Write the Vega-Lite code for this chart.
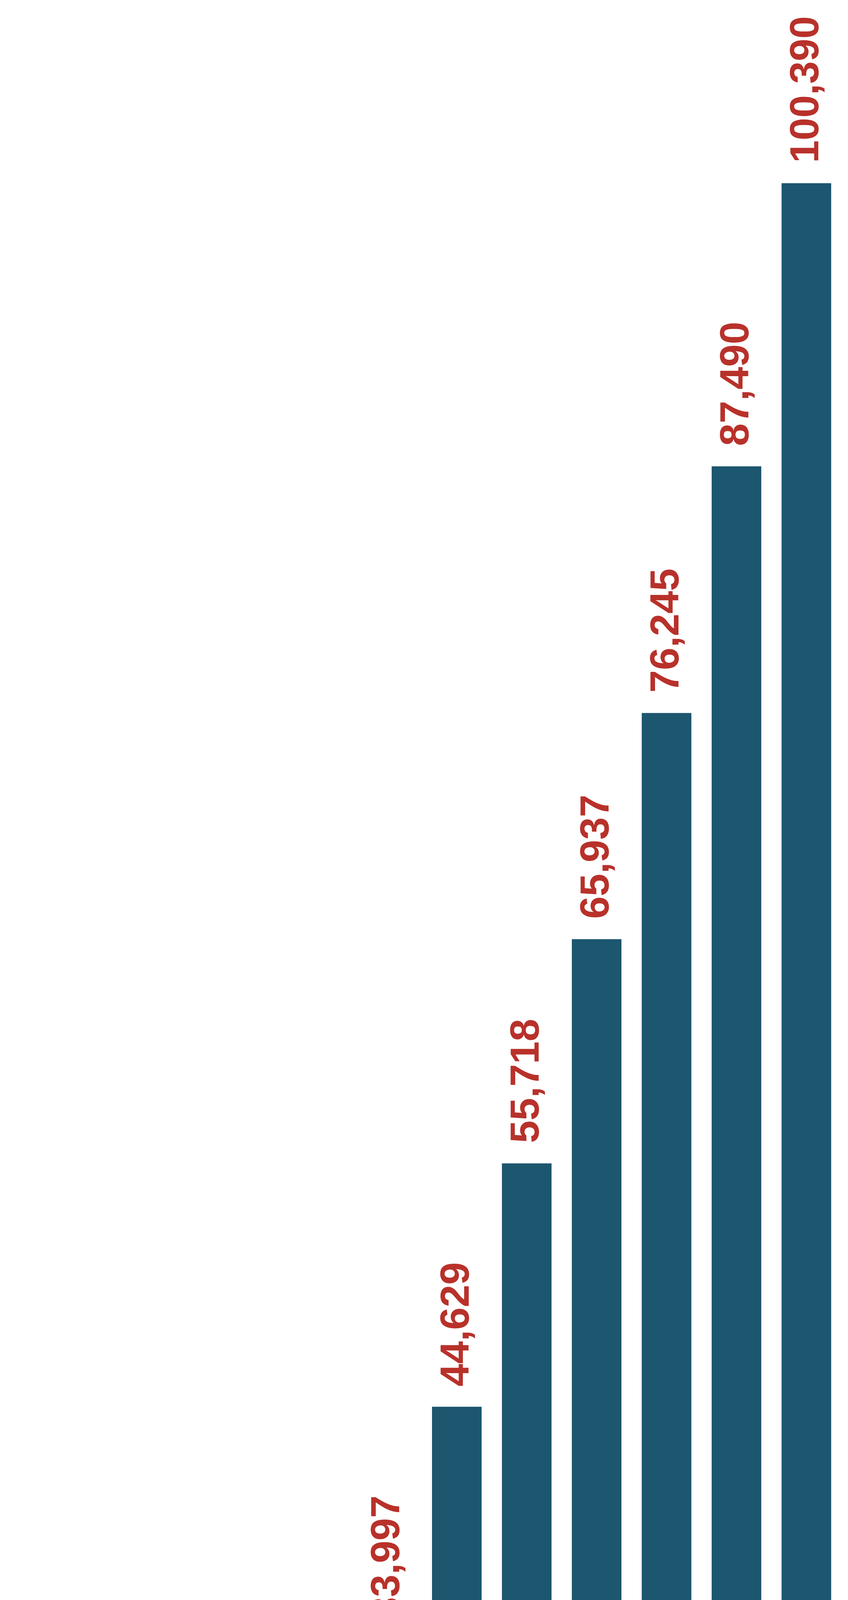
{
  "$schema": "https://vega.github.io/schema/vega-lite/v6.json",
  "description": "Yearly totals 2008-2019",
  "width": 2160,
  "height": 6108,
  "padding": {"left": 0, "top": 0, "right": 11, "bottom": 287},
  "autosize": {"type": "none"},
  "background": "white",
  "config": {"view": {"stroke": null}},
  "data": {
    "values": [
      {"year": "2008", "total": 4000},
      {"year": "2009", "total": 6618},
      {"year": "2010", "total": 7683},
      {"year": "2011", "total": 16552},
      {"year": "2012", "total": 26038},
      {"year": "2013", "total": 33997},
      {"year": "2014", "total": 44629},
      {"year": "2015", "total": 55718},
      {"year": "2016", "total": 65937},
      {"year": "2017", "total": 76245},
      {"year": "2018", "total": 87490},
      {"year": "2019", "total": 100390}
    ]
  },
  "encoding": {
    "x": {
      "field": "year",
      "type": "ordinal",
      "title": null,
      "scale": {"paddingInner": 0.2905, "paddingOuter": 0.179},
      "axis": {
        "labelAngle": -90,
        "labelFont": "Liberation Sans",
        "labelFontSize": 98,
        "labelColor": "#1d566f",
        "labelPadding": 55,
        "labelLimit": 0,
        "ticks": false,
        "tickSize": 0,
        "domain": false,
        "grid": false
      }
    },
    "y": {
      "field": "total",
      "type": "quantitative",
      "scale": {"domain": [0, 108740], "nice": false},
      "axis": null
    }
  },
  "layer": [
    {"mark": {"type": "bar", "color": "#1d566f"}},
    {
      "mark": {
        "type": "text",
        "angle": 270,
        "align": "left",
        "baseline": "middle",
        "dx": 52,
        "font": "Liberation Sans",
        "fontWeight": "bold",
        "fontSize": 104,
        "color": "#b8312a"
      },
      "encoding": {
        "text": {"field": "total", "type": "quantitative", "format": ","}
      }
    }
  ]
}
